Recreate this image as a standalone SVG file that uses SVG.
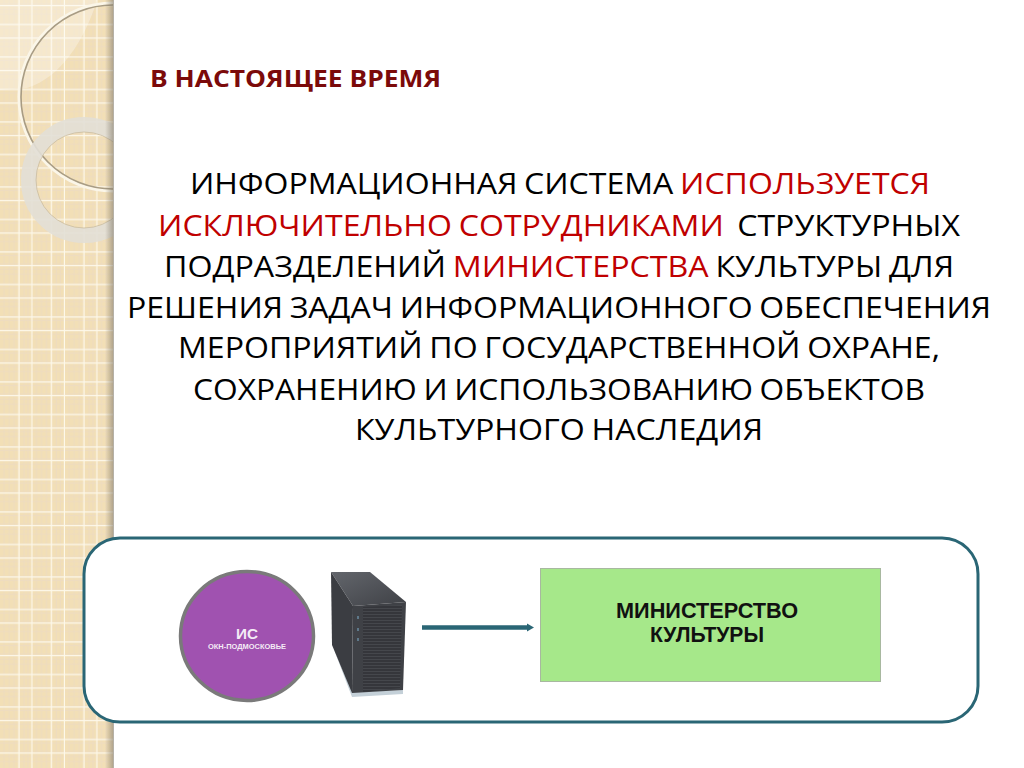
<svg xmlns="http://www.w3.org/2000/svg" width="1024" height="768" viewBox="0 0 1024 768">
<defs>
<pattern id="grid" width="32.5" height="32.5" patternUnits="userSpaceOnUse" x="0" y="0">
<rect width="32.5" height="32.5" fill="#f2dfb6"/>
<path d="M4 0V32.5M9 0V32.5M14 0V32.5M24 0V32.5M28 0V32.5M0 4H32.5M0 9H32.5M0 14H32.5M0 24H32.5M0 28H32.5" stroke="#eedcc0" stroke-width="1"/>
<path d="M19 0V32.5M32 0V32.5M0 5.500H32.5M0 24.500H32.5" stroke="#fdf8ea" stroke-width="1.300"/>
</pattern>
<linearGradient id="edge" x1="0" x2="1" y1="0" y2="0"><stop offset="0" stop-color="#7c7464" stop-opacity="0"/><stop offset="1" stop-color="#7c7464" stop-opacity=".6"/></linearGradient>
<linearGradient id="srv" x1="0" x2="1" y1="0" y2="1"><stop offset="0" stop-color="#63666c"/><stop offset="1" stop-color="#3f4146"/></linearGradient>
<pattern id="vent" width="3" height="3" patternUnits="userSpaceOnUse"><rect width="3" height="3" fill="#45474c"/><path d="M0 1H3" stroke="#24252a" stroke-width="1"/></pattern>
<clipPath id="side"><rect width="113" height="768"/></clipPath>
<marker id="arr" markerUnits="userSpaceOnUse" markerWidth="8" markerHeight="10" refX="1" refY="5" orient="auto"><path d="M0 1L7 5L0 9Z" fill="#2a6675"/></marker>
</defs>
<style>
.m{font-family:"Open Sans","Noto Sans","Liberation Sans",sans-serif;font-size:30px;word-spacing:-1.500px;fill:#000;text-anchor:middle}
.r{fill:#c00000}
.a{font-family:"Liberation Sans",Arial,sans-serif;font-weight:700;fill:#111;text-anchor:middle}
</style>
<rect width="1024" height="768" fill="#fff"/>
<g id="sidebar">
<rect width="113" height="768" fill="url(#grid)"/>
<g clip-path="url(#side)">
<path d="M97 0C85 40 60 78 27 88L0 90V0Z" fill="#fff" opacity=".3"/>
<circle cx="113" cy="97" r="94" fill="none" stroke="#fbf6e8" stroke-width="3"/>
<circle cx="113" cy="97" r="92" fill="none" stroke="#a89c84" stroke-width="1.600"/>
<circle cx="84" cy="180" r="55.500" fill="none" stroke="#e2dfd6" stroke-width="15" opacity=".9"/>
<circle cx="84" cy="180" r="48" fill="none" stroke="#c9bda2" stroke-width=".8"/>
</g>
<rect x="105" width="9" height="768" fill="url(#edge)"/>
</g>
<g id="title"><text x="150" y="87" font-family="'Open Sans','Noto Sans',sans-serif" font-size="24" font-weight="700" fill="#7b0a0a" textLength="291" lengthAdjust="spacingAndGlyphs">В НАСТОЯЩЕЕ ВРЕМЯ</text></g>
<g id="body">
<text class="m" x="560" y="194" textLength="740" lengthAdjust="spacingAndGlyphs">ИНФОРМАЦИОННАЯ СИСТЕМА <tspan class="r">ИСПОЛЬЗУЕТСЯ</tspan></text>
<text class="m" x="559" y="236" textLength="802" lengthAdjust="spacingAndGlyphs" xml:space="preserve"><tspan class="r">ИСКЛЮЧИТЕЛЬНО СОТРУДНИКАМИ</tspan>  СТРУКТУРНЫХ</text>
<text class="m" x="559" y="277" textLength="790" lengthAdjust="spacingAndGlyphs">ПОДРАЗДЕЛЕНИЙ <tspan class="r">МИНИСТЕРСТВА</tspan> КУЛЬТУРЫ ДЛЯ</text>
<text class="m" x="559" y="318" textLength="864" lengthAdjust="spacingAndGlyphs">РЕШЕНИЯ ЗАДАЧ ИНФОРМАЦИОННОГО ОБЕСПЕЧЕНИЯ</text>
<text class="m" x="559" y="358" textLength="762" lengthAdjust="spacingAndGlyphs">МЕРОПРИЯТИЙ ПО ГОСУДАРСТВЕННОЙ ОХРАНЕ,</text>
<text class="m" x="559" y="400" textLength="732" lengthAdjust="spacingAndGlyphs">СОХРАНЕНИЮ И ИСПОЛЬЗОВАНИЮ ОБЪЕКТОВ</text>
<text class="m" x="559" y="440" textLength="408" lengthAdjust="spacingAndGlyphs">КУЛЬТУРНОГО НАСЛЕДИЯ</text>
</g>
<g id="frame"><rect x="84" y="538" width="894" height="184" rx="36" fill="#fff" stroke="#2a6675" stroke-width="3"/></g>
<g id="is-node">
<ellipse cx="247" cy="636" rx="66.500" ry="64.500" fill="#a052b0" stroke="#7a7a7a" stroke-width="3.500"/>
<text x="247" y="639" font-family="'Liberation Sans',sans-serif" font-size="15" font-weight="700" fill="#f4ecf6" text-anchor="middle" textLength="22" lengthAdjust="spacingAndGlyphs">ИС</text>
<text x="247" y="649" font-family="'Liberation Sans',sans-serif" font-size="8" font-weight="700" fill="#f4ecf6" text-anchor="middle" textLength="78" lengthAdjust="spacingAndGlyphs">ОКН-ПОДМОСКОВЬЕ</text>
</g>
<g id="server">
<path d="M333 647L352 697L403 694L403 690L352 692Z" fill="#c4d0d8"/>
<path d="M331 572L370 572L406 602L353 606Z" fill="url(#srv)"/>
<path d="M331 572L353 606L352 693L332 645Z" fill="#3b3d42"/>
<path d="M353 606L406 602L403 690L352 693Z" fill="#3f4146"/>
<path d="M363 607L402 605L400 688L363 692Z" fill="url(#vent)"/>
<path d="M358 616V619M358 628V631M358 638V641" stroke="#6a8aa0" stroke-width="1.500"/>
</g>
<g id="ministry">
<rect x="540.500" y="568.500" width="340" height="113" fill="#a6e88a" stroke="#a8b8a0"/>
<text class="a" x="707" y="618" font-size="21.500" textLength="182" lengthAdjust="spacingAndGlyphs">МИНИСТЕРСТВО</text>
<text class="a" x="707" y="642" font-size="21.500" textLength="114" lengthAdjust="spacingAndGlyphs">КУЛЬТУРЫ</text>
</g>
<g id="connectors"><line x1="422" y1="627.500" x2="528" y2="627.500" stroke="#2a6675" stroke-width="4.500" marker-end="url(#arr)"/></g>
</svg>
